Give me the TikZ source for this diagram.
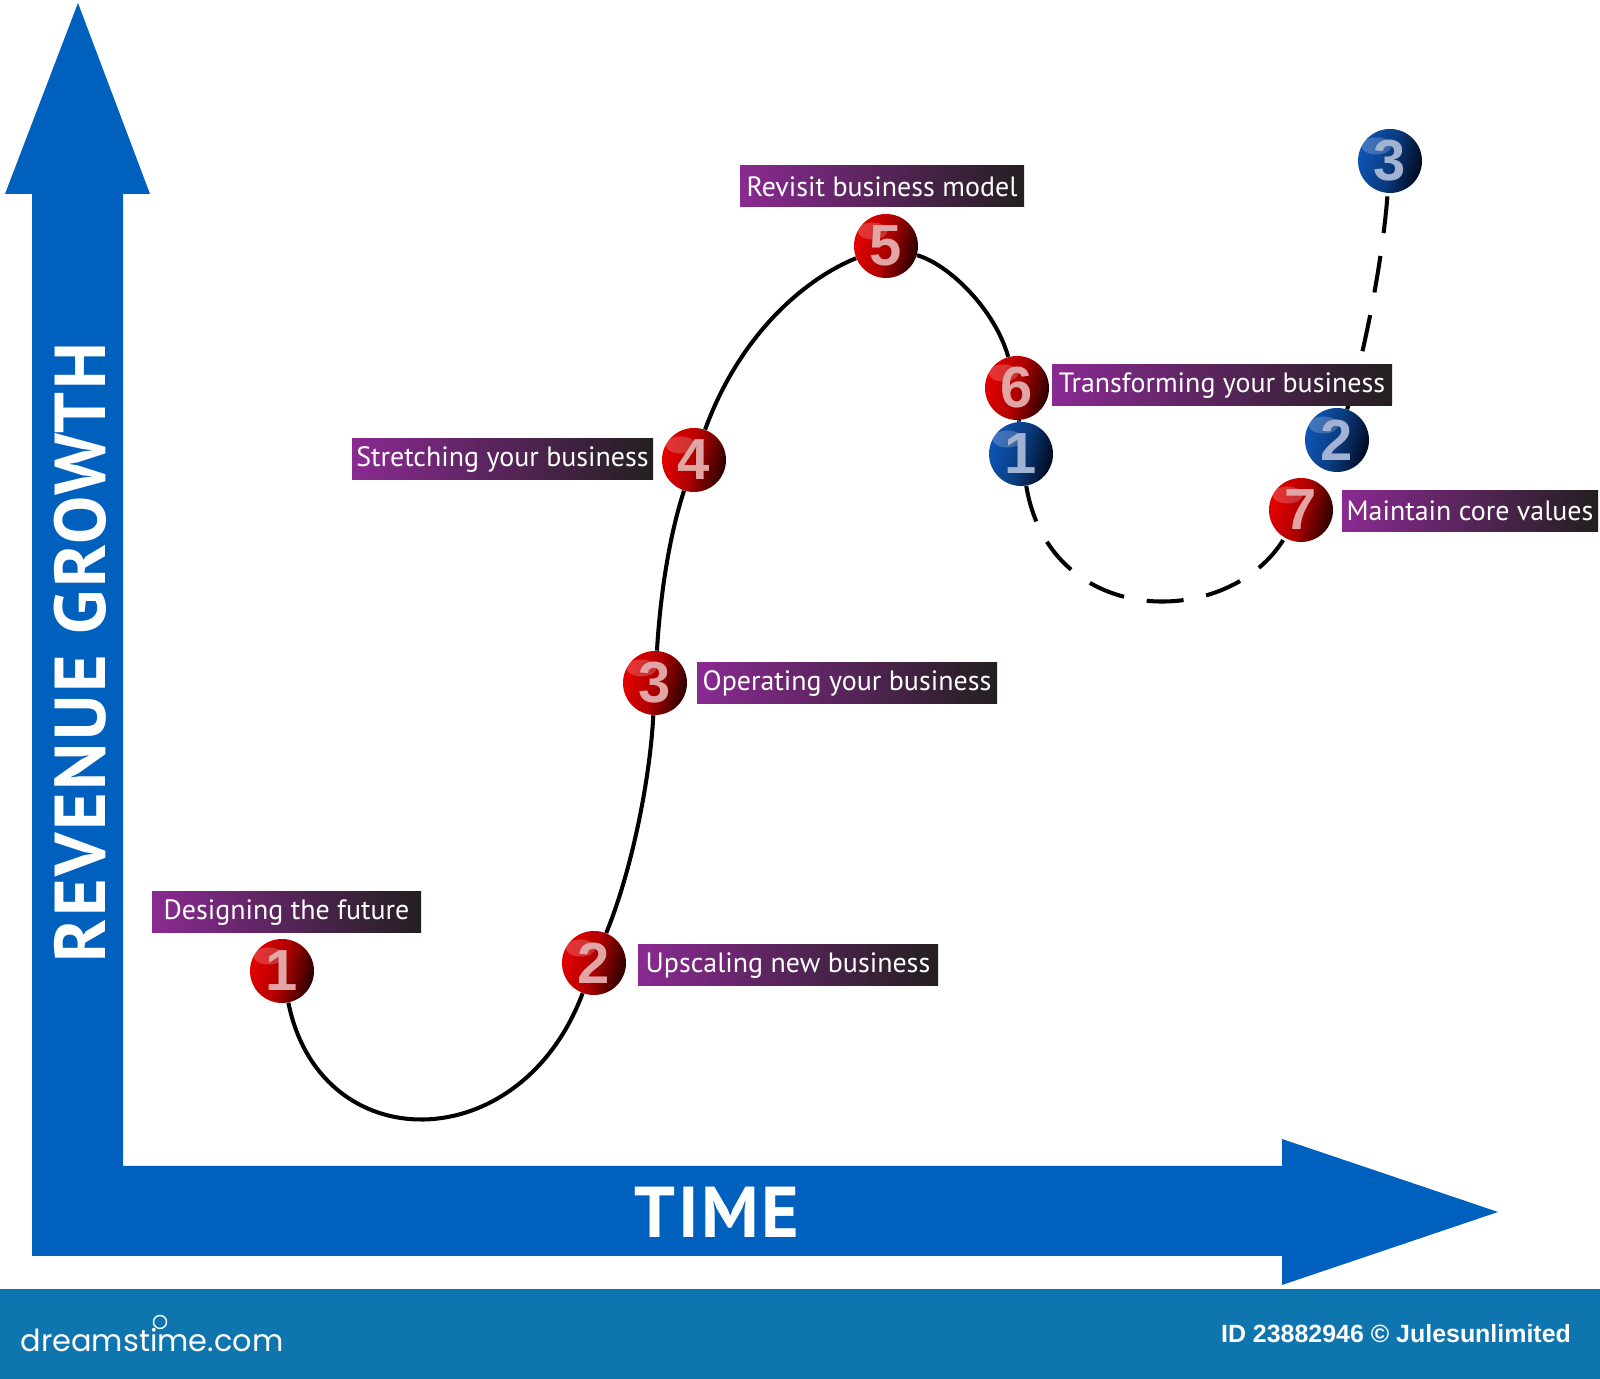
\documentclass[tikz,border=0pt]{standalone}
\usepackage{fontspec}
\setmainfont{PT Sans}
\newfontfamily\digitfont{Liberation Sans}[BoldFont={Liberation Sans Bold}]
\newfontfamily\axisfont{PT Sans}[LetterSpace=3.5]
\newfontfamily\logofont{Poppins}
\definecolor{axisblue}{HTML}{0060BE}
\definecolor{footerblue}{HTML}{0F75AE}
\definecolor{tagpurple}{HTML}{8A2A92}
\definecolor{tagblack}{HTML}{231F20}
\definecolor{reddigit}{HTML}{E2A5A5}
\definecolor{bluedigit}{HTML}{A2B2D2}
\definecolor{blueleft}{HTML}{0F55B5}
\definecolor{bluemid}{HTML}{0A3C80}
\definecolor{blueright}{HTML}{020A20}
\definecolor{redleft}{HTML}{E60000}
\definecolor{redmid}{HTML}{B00000}
\definecolor{redright}{HTML}{2A0000}
\tikzset{
ball/.style={circle,minimum size=1.28cm,inner sep=0pt,font=\digitfont\bfseries\fontsize{33}{33}\selectfont,
  path picture={\fill[white,opacity=.2,rotate=35] ([shift={(-.27,.3)}]path picture bounding box.center) ellipse (.3 and .17);}},
redball/.style={ball,text=reddigit,left color=redleft,right color=redright,middle color=redmid,shading angle=75},
blueball/.style={ball,text=bluedigit,left color=blueleft,right color=blueright,middle color=bluemid,shading angle=75},
tag/.style={left color=tagpurple,right color=tagblack,text=white,font=\fontsize{15.9}{16}\selectfont,minimum height=.82cm,inner sep=0pt},
curve/.style={line width=2.3pt},
dashcurve/.style={line width=2.3pt,dash pattern=on .74cm off .46cm},
axislabel/.style={text=white,font=\axisfont\bfseries\fontsize{41}{41}\selectfont}
}
\begin{document}
\begin{tikzpicture}[xscale=1,yscale=1]
\useasboundingbox (0,0) rectangle (32,27.58);
\fill[footerblue] (0,0) rectangle (32,1.80);
\fill[axisblue] (0.64,2.46) -- (0.64,23.70) -- (0.10,23.70) -- (1.56,27.52) -- (3.00,23.70) -- (2.46,23.70)
  -- (2.46,4.26) -- (25.64,4.26) -- (25.64,4.80) -- (29.96,3.34) -- (25.64,1.88) -- (25.64,2.46) -- cycle;
\node[axislabel,rotate=90] (growth) at (1.60,14.53) {REVENUE GROWTH};
\node[axislabel] (time) at (14.34,3.34) {TIME};
\foreach \n/\x/\y in {1/5.64/8.16,2/11.88/8.32,3/13.10/13.92,4/13.88/18.38,5/17.72/22.66,6/20.34/19.82,7/26.02/17.38} {
\node[redball] (red\n) at (\x,\y) {\n};
}
\foreach \n/\x/\y in {1/20.42/18.50,2/26.74/18.78,3/27.80/24.36} {
\node[blueball] (blue\n) at (\x,\y) {\n};
}
\draw[curve] (red1) .. controls (6.40,4.38) and (10.40,4.38) .. (red2);
\draw[curve] (red2) .. controls (12.64,10.18) and (13.0,12.0) .. (red3);
\draw[curve] (red3) .. controls (13.2,15.58) and (13.36,16.78) .. (red4);
\draw[curve] (red4) .. controls (14.8,20.9) and (16.1,22.0) .. (red5);
\draw[curve] (red5) .. controls (19.0,22.28) and (19.9,21.38) .. (red6);
\draw[curve] (red6) -- (blue1);
\draw[dashcurve] (blue1) .. controls (21.0,14.98) and (24.6,14.98) .. (red7);
\draw[dashcurve] (blue2) .. controls (27.2,20.18) and (27.64,22.18) .. (blue3);
\node[tag,minimum width=5.38cm] (tag1) at (5.73,9.33) {Designing the future};
\node[tag,minimum width=6.00cm] (tag2) at (15.76,8.27) {Upscaling new business};
\node[tag,minimum width=6.00cm] (tag3) at (16.94,13.91) {Operating your business};
\node[tag,minimum width=6.02cm] (tag4) at (10.05,18.39) {Stretching your business};
\node[tag,minimum width=5.68cm] (tag5) at (17.64,23.85) {Revisit business model};
\node[tag,minimum width=6.80cm] (tag6) at (24.44,19.87) {Transforming your business};
\node[tag,minimum width=5.12cm] (tag7) at (29.40,17.36) {Maintain core values};
\node[text=white,font=\logofont\fontsize{17.3}{18}\selectfont] (logo) at (3.04,0.78) {dreamstime.com};
\node[draw=white,thick,circle,minimum size=.26cm,inner sep=0pt] (spiral) at (3.20,1.14) {};
\node[text=white,font=\digitfont\bfseries\fontsize{14.2}{15}\selectfont] (id) at (27.92,0.90) {ID 23882946 © Julesunlimited};
\end{tikzpicture}
\end{document}
